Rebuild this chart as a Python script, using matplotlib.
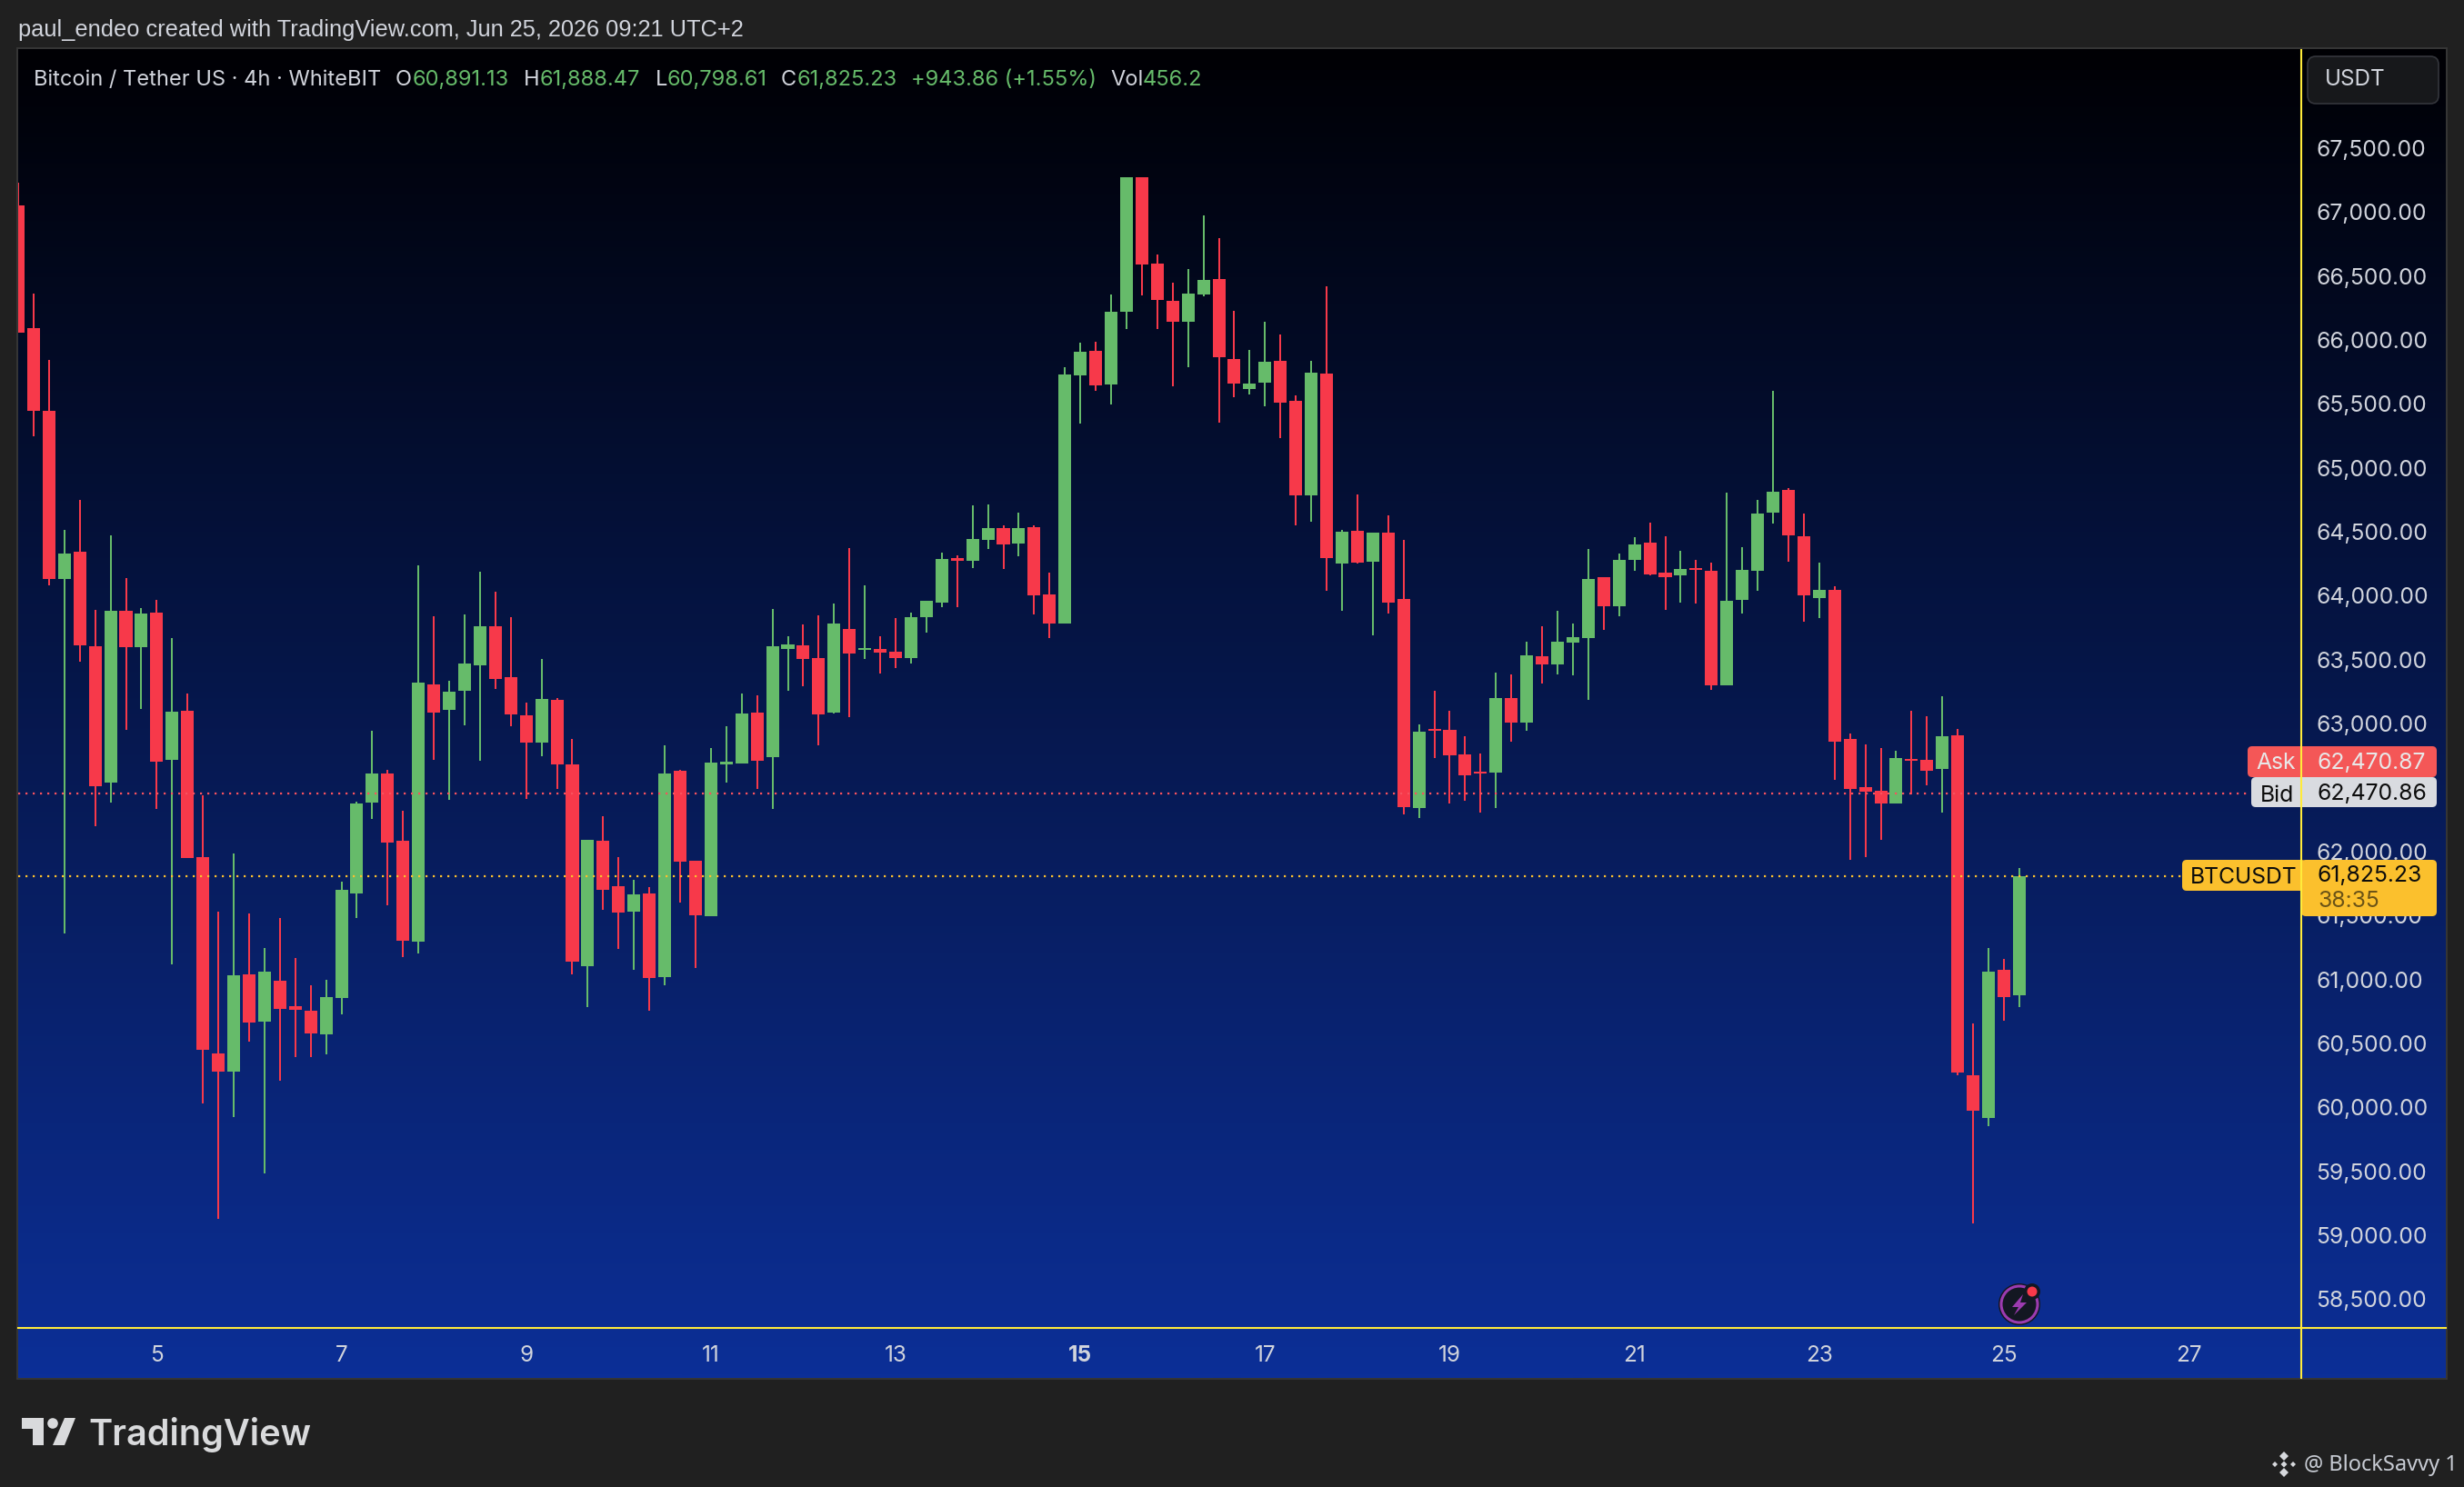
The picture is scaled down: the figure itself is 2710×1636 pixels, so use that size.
"""
BTC/USDT 4h 蜡烛图（TradingView 截图风格）
"""
import numpy as np
import matplotlib
matplotlib.use('Agg')
import matplotlib.pyplot as plt
from matplotlib.colors import LinearSegmentedColormap
from matplotlib.patches import Circle, FancyBboxPatch, Polygon, Rectangle
from matplotlib.transforms import Affine2D

plt.rcParams['font.family'] = ['Inter', 'DejaVu Sans']

# 每根K线的 开/高/低/收
opens = [67066, 66107, 65460, 64145, 64358, 63620, 62554, 63897, 63613, 63883,
         62731, 63115, 61971, 60436, 60294, 61054, 60684, 61005, 60806, 60770,
         60586, 60869, 61687, 62397, 62625, 62099, 61310, 63321, 63122, 63271,
         63470, 63776, 63378, 63079, 62866, 63200, 62696, 61118, 62099, 61744,
         61545, 61687, 61033, 62646, 61943, 61509, 62696, 62703, 63101, 62753,
         63598, 63627, 63527, 63101, 63755, 63591, 63598, 63577, 63527, 63847,
         63961, 64309, 64288, 64451, 64543, 64423, 64550, 64025, 63797, 65737,
         65929, 65666, 66235, 67286, 66611, 66320, 66156, 66370, 66490, 65865,
         65631, 65680, 65851, 65538, 64799, 65751, 64266, 64522, 64280, 64508,
         63989, 62355, 62973, 62966, 62774, 62639, 62632, 63215, 63023, 63542,
         63478, 63648, 63684, 64160, 63932, 64295, 64430, 64195, 64174, 64231,
         64209, 63314, 63982, 64209, 64664, 64842, 64479, 63996, 64060, 62895,
         62518, 62490, 62390, 62739, 62731, 62660, 62923, 60266, 59932, 61090,
         60891.13]
highs = [67244, 66377, 65858, 64529, 64764, 63903, 64487, 64152, 63918, 63982,
         63684, 63250, 62454, 61545, 61999, 61530, 61260, 61495, 61182, 60969,
         61012, 61779, 62405, 62959, 62653, 62333, 64252, 63854, 63350, 63868,
         64202, 64046, 63847, 63179, 63520, 63215, 62895, 62106, 62291, 61971,
         61793, 61737, 62845, 62653, 61943, 62824, 62994, 63250, 63236, 63911,
         63698, 63790, 63861, 63954, 64387, 64096, 63698, 63840, 63883, 63975,
         64351, 64330, 64721, 64728, 64565, 64664, 64565, 64195, 65801, 65993,
         66000, 66370, 67286, 67286, 66682, 66462, 66569, 66988, 66810, 66242,
         65936, 66156, 66057, 65581, 65851, 66434, 64529, 64806, 64508, 64643,
         64451, 63008, 63271, 63115, 62916, 62781, 63414, 63399, 63655, 63776,
         63897, 63797, 64380, 64160, 64344, 64472, 64586, 64479, 64366, 64295,
         64273, 64821, 64394, 64764, 65616, 64856, 64657, 64273, 64089, 62937,
         62852, 62824, 62803, 63115, 63072, 63229, 62973, 60670, 61260, 61175,
         61888.47]
lows = [66071, 65262, 64095, 61374, 63499, 62213, 62397, 62966, 63130, 62348,
        61132, 61964, 60045, 59143, 59939, 60528, 59498, 60223, 60408, 60408,
        60429, 60742, 61495, 62269, 61594, 61189, 61218, 62731, 62419, 63001,
        62724, 63286, 62994, 62426, 62760, 62504, 61054, 60799, 61559, 61253,
        61090, 60770, 60969, 61616, 61104, 61509, 62554, 62703, 62504, 62348,
        63271, 63307, 62845, 63094, 63065, 63520, 63406, 63449, 63485, 63726,
        63925, 63925, 64231, 64380, 64224, 64323, 63868, 63684, 63797, 65361,
        65616, 65510, 66100, 66363, 66100, 65652, 65801, 66355, 65368, 65567,
        65588, 65496, 65247, 64565, 64593, 64053, 63897, 64266, 63705, 63875,
        62305, 62277, 62746, 62390, 62412, 62319, 62355, 62873, 62959, 63328,
        63399, 63392, 63200, 63748, 63854, 64209, 64174, 63904, 63961, 63954,
        63279, 63314, 63875, 64053, 64579, 64280, 63811, 63840, 62575, 61950,
        61971, 62106, 62390, 62461, 62532, 62319, 60266, 59107, 59868, 60692,
        60798.61]
closes = [66071, 65460, 64145, 64344, 63627, 62525, 63897, 63613, 63875, 62717,
          63108, 61964, 60464, 60294, 61047, 60677, 61079, 60784, 60777, 60593,
          60877, 61715, 62390, 62625, 62085, 61317, 63335, 63101, 63264, 63485,
          63776, 63364, 63087, 62866, 63207, 62696, 61154, 62106, 61715, 61538,
          61680, 61026, 62625, 61936, 61516, 62710, 62717, 63094, 62724, 63620,
          63634, 63520, 63087, 63797, 63563, 63605, 63570, 63527, 63847, 63975,
          64302, 64288, 64458, 64543, 64415, 64543, 64018, 63797, 65744, 65922,
          65659, 66235, 67286, 66604, 66327, 66156, 66377, 66483, 65879, 65673,
          65673, 65844, 65524, 64799, 65759, 64309, 64515, 64273, 64508, 63961,
          62362, 62952, 62959, 62767, 62611, 62625, 63215, 63023, 63549, 63478,
          63655, 63691, 64145, 63932, 64295, 64415, 64181, 64160, 64224, 64216,
          63314, 63975, 64216, 64657, 64828, 64487, 64018, 64060, 62873, 62504,
          62483, 62390, 62746, 62724, 62646, 62916, 60287, 59989, 61076, 60877,
          61825.23]

# 坐标轴刻度
price_ticks = [58500 + 500 * i for i in range(19)]
day_labels = [5, 7, 9, 11, 13, 15, 17, 19, 21, 23, 25, 27]
day_bars = [9, 21, 33, 45, 57, 69, 81, 93, 105, 117, 129, 141]

ask_price = 62470.87
bid_price = 62470.86
last_price = 61825.23

UP = '#66BB6A'
DOWN = '#F7394A'
TEXT = '#D1D4DC'
PANEL = '#202020'
YELLOW = '#FFEB3B'
GOLD = '#FBC02D'

W, H = 2710, 1636
PANE_L, PANE_R, PANE_T, PANE_B = 20, 2690, 54, 1516
AXIS_X, AXIS_Y = 2531, 1461

fig = plt.figure(figsize=(W / 100, H / 100), dpi=100, facecolor=PANEL)


def fig_rect(left, top, right, bottom):
    return [left / W, 1 - bottom / H, (right - left) / W, (bottom - top) / H]


# 背景渐变
bg = fig.add_axes(fig_rect(PANE_L, PANE_T, PANE_R, PANE_B), zorder=0)
grad = LinearSegmentedColormap.from_list('bg', ['#000004', '#0C2F97'])
bg.imshow(np.linspace(0, 1, 512).reshape(-1, 1), aspect='auto', cmap=grad)
bg.axis('off')

# 主图
ax = fig.add_axes(fig_rect(PANE_L, PANE_T, AXIS_X, AXIS_Y), zorder=1)
ax.patch.set_alpha(0)
for s in ax.spines.values():
    s.set_visible(False)
ax.set_xlim(0, (AXIS_X - PANE_L) / 16.93)
ax.set_ylim(68672 - 7.106 * AXIS_Y, 68672 - 7.106 * PANE_T)

o = np.array(opens)
h = np.array(highs)
l = np.array(lows)
c = np.array(closes)
x = np.arange(len(o))
cols = [UP if c[i] >= o[i] else DOWN for i in x]
ax.vlines(x, l, h, colors=cols, linewidth=1.44, zorder=2)
ax.bar(x, np.abs(c - o), bottom=np.minimum(o, c), width=0.83, color=cols,
       linewidth=0, zorder=3)

# 买卖价与现价虚线
ax.hlines(bid_price, 0, (2472 - PANE_L) / 16.93, colors='#F7525F', linewidth=1.6,
          linestyles=(0, (1, 2.6)), zorder=4)
ax.hlines(last_price, 0, (2400 - PANE_L) / 16.93, colors=GOLD, linewidth=1.6,
          linestyles=(0, (1, 2.6)), zorder=4)

ax.yaxis.tick_right()
ax.set_yticks(price_ticks)
ax.set_yticklabels([f'{p:,.2f}' for p in price_ticks], fontsize=17.8, color=TEXT)
ax.set_xticks(day_bars)
ax.set_xticklabels([str(d) for d in day_labels], fontsize=17.5, color=TEXT)
ax.tick_params(axis='both', length=0)
ax.tick_params(axis='y', pad=11.8)
ax.tick_params(axis='x', pad=14)
ax.get_xticklabels()[day_labels.index(15)].set_fontweight('bold')
for t in ax.get_yticklabels():
    t.set_transform(t.get_transform() + Affine2D().translate(0, 2))

# 外层：像素坐标的界面元素
ui = fig.add_axes([0, 0, 1, 1], zorder=2)
ui.set_xlim(0, W)
ui.set_ylim(H, 0)
ui.axis('off')
ui.patch.set_alpha(0)

ui.add_patch(Rectangle((PANE_L - 1, PANE_T - 1), PANE_R - PANE_L + 2, PANE_B - PANE_T + 2,
                       fill=False, edgecolor='#363636', linewidth=1.4))
ui.plot([PANE_L, PANE_R], [AXIS_Y, AXIS_Y], color=YELLOW, linewidth=1.5)
ui.plot([AXIS_X, AXIS_X], [PANE_T + 1, PANE_B], color=YELLOW, linewidth=1.5)


def box(left, top, right, bottom, color):
    ui.add_patch(FancyBboxPatch((left + 4, top + 4), right - left - 8, bottom - top - 8,
                                boxstyle='round,pad=4,rounding_size=5',
                                facecolor=color, edgecolor='none'))


def label(px, py, s, color=TEXT, size=17.8, ha='left', **kw):
    ui.text(px, py, s, color=color, fontsize=size, ha=ha, va='center', **kw)


# 货币按钮
ui.add_patch(FancyBboxPatch((2544, 68), 132, 40, boxstyle='round,pad=6,rounding_size=9',
                            facecolor='#17181B', edgecolor='#34363C', linewidth=1.2))
label(2557, 88, 'USDT', size=17.5)

# 价格标签
box(2472, 821, 2680, 855, '#F45757')
box(2476, 855, 2680, 888, '#D9DBE0')
box(2400, 946, 2536, 980, GOLD)
box(2531, 946, 2680, 1008, GOLD)
ui.plot([AXIS_X, AXIS_X], [821, 1008], color=YELLOW, linewidth=1.2)
label(2481, 840, 'Ask', color='#E8E8E8')
label(2549, 839, f'{ask_price:,.2f}', color='#E8E8E8')
label(2486, 875, 'Bid', color='#0C0C0C')
label(2549, 873, f'{bid_price:,.2f}', color='#0C0C0C')
label(2409, 965, 'BTCUSDT', color='#0C0C0C')
label(2549, 964, f'{last_price:,.2f}', color='#0C0C0C')
label(2549, 992, '38:35', color='#6B5316')

# 顶部文字
ui.text(20, 33, 'paul_endeo created with TradingView.com, Jun 25, 2026 09:21 UTC+2',
        color='#D1D4DC', fontsize=18.3, va='center', family=['Liberation Sans', 'DejaVu Sans'])
legend_items = [
    (37, 'Bitcoin / Tether US · 4h · WhiteBIT', TEXT),
    (435, 'O', TEXT), (454, f'{opens[-1]:,.2f}', UP),
    (576, 'H', TEXT), (594, f'{highs[-1]:,.2f}', UP),
    (721, 'L', TEXT), (734, f'{lows[-1]:,.2f}', UP),
    (859, 'C', TEXT), (877, f'{closes[-1]:,.2f}', UP),
    (1002, '+943.86 (+1.55%)', UP),
    (1221, 'Vol', TEXT), (1257, '456.2', UP),
]
for px, s, col in legend_items:
    label(px, 88, s, color=col, size=17)

# 闪电徽标
ui.add_patch(Circle((2221, 1435), 23, facecolor='#131722', edgecolor='none'))
ui.add_patch(Circle((2221, 1435), 20, facecolor='none', edgecolor='#9C3BB0', linewidth=2.2))
ui.add_patch(Polygon([(2225, 1424), (2213, 1438), (2220, 1438), (2215, 1447),
                      (2229, 1433), (2222, 1433)], facecolor='#9C3BB0', edgecolor='none'))
ui.add_patch(Circle((2235, 1421), 9, facecolor='#131722', edgecolor='none'))
ui.add_patch(Circle((2235, 1421), 5.5, facecolor='#F7394A', edgecolor='none'))

# TradingView 标志
LOGO = '#D9DADC'
ui.add_patch(Polygon([(24, 1560), (48, 1560), (48, 1590), (36, 1590), (36, 1572), (24, 1572)],
                     facecolor=LOGO, edgecolor='none'))
ui.add_patch(Circle((58, 1566), 5.8, facecolor=LOGO, edgecolor='none'))
ui.add_patch(Polygon([(71, 1560), (83, 1560), (71, 1590), (58, 1590)],
                     facecolor=LOGO, edgecolor='none'))
ui.text(97, 1590, 'TradingView', color=LOGO, fontsize=28.6, fontweight='semibold',
        va='baseline', family=['Inter', 'DejaVu Sans'])

# 右下角水印
WM = '#D6D8DC'
for dx, dy, r in [(0, -9, 5), (0, 9, 5), (-10, 0, 3), (10, 0, 3), (0, 0, 3.5)]:
    cx, cy = 2512 + dx, 1611 + dy
    ui.add_patch(Polygon([(cx - r, cy), (cx, cy - r), (cx + r, cy), (cx, cy + r)],
                         facecolor=WM, edgecolor='none'))
ui.text(2534, 1612, '@ BlockSavvy 1', color='#C8CCD4', fontsize=17, va='center',
        family=['Noto Sans', 'DejaVu Sans'])

fig.savefig('out.png', dpi=100, facecolor=PANEL)
plt.close(fig)
